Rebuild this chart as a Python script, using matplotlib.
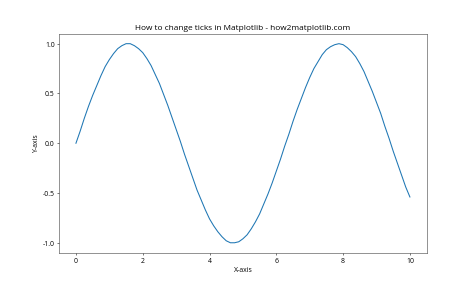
import matplotlib
matplotlib.use("Agg")
import matplotlib.pyplot as plt

plt.rcParams['font.family'] = ['Open Sans', 'DejaVu Sans']

x_values = [0.0, 0.125, 0.25, 0.375, 0.5, 0.625, 0.75, 0.875, 1.0, 1.125, 1.25, 1.375,
            1.5, 1.625, 1.75, 1.875, 2.0, 2.125, 2.25, 2.375, 2.5, 2.625, 2.75, 2.875,
            3.0, 3.125, 3.25, 3.375, 3.5, 3.625, 3.75, 3.875, 4.0, 4.125, 4.25, 4.375,
            4.5, 4.625, 4.75, 4.875, 5.0, 5.125, 5.25, 5.375, 5.5, 5.625, 5.75, 5.875,
            6.0, 6.125, 6.25, 6.375, 6.5, 6.625, 6.75, 6.875, 7.0, 7.125, 7.25, 7.375,
            7.5, 7.625, 7.75, 7.875, 8.0, 8.125, 8.25, 8.375, 8.5, 8.625, 8.75, 8.875,
            9.0, 9.125, 9.25, 9.375, 9.5, 9.625, 9.75, 9.875, 10.0]
y_values = [0.00, 0.12, 0.25, 0.37, 0.48, 0.58, 0.68, 0.77, 0.84, 0.90, 0.95, 0.98,
            1.00, 1.00, 0.98, 0.95, 0.91, 0.85, 0.78, 0.69, 0.60, 0.49, 0.38, 0.26,
            0.14, 0.02, -0.11, -0.23, -0.35, -0.47, -0.57, -0.67, -0.76, -0.83, -0.89, -0.94,
            -0.98, -1.00, -1.00, -0.99, -0.96, -0.92, -0.86, -0.79, -0.71, -0.61, -0.51, -0.40,
            -0.28, -0.16, -0.03, 0.09, 0.22, 0.34, 0.45, 0.56, 0.66, 0.75, 0.82, 0.89,
            0.94, 0.97, 0.99, 1.00, 0.99, 0.96, 0.92, 0.87, 0.80, 0.72, 0.62, 0.52,
            0.41, 0.30, 0.17, 0.05, -0.08, -0.20, -0.32, -0.44, -0.54]

x_ticks = [0, 2, 4, 6, 8, 10]
y_ticks = [-1.0, -0.5, 0.0, 0.5, 1.0]
y_tick_labels = ["-1.0", "-0.5", "0.0", "0.5", "1.0"]

title = "How to change ticks in Matplotlib - how2matplotlib.com"
xlabel = "X-axis"
ylabel = "Y-axis"

fig, ax = plt.subplots(figsize=(10, 6), dpi=47.4)
ax.plot(x_values, y_values, color='#1f77b4', linewidth=1.6)
ax.set_xticks(x_ticks)
ax.set_yticks(y_ticks)
ax.set_yticklabels(y_tick_labels)
ax.tick_params(labelsize=10.5)
ax.set_title(title, fontsize=12.5)
ax.set_xlabel(xlabel, fontsize=10.5)
ax.set_ylabel(ylabel, fontsize=10.5)
for s in ax.spines.values():
    s.set_edgecolor('#333333')
fig.savefig("out.png", dpi=47.4)
